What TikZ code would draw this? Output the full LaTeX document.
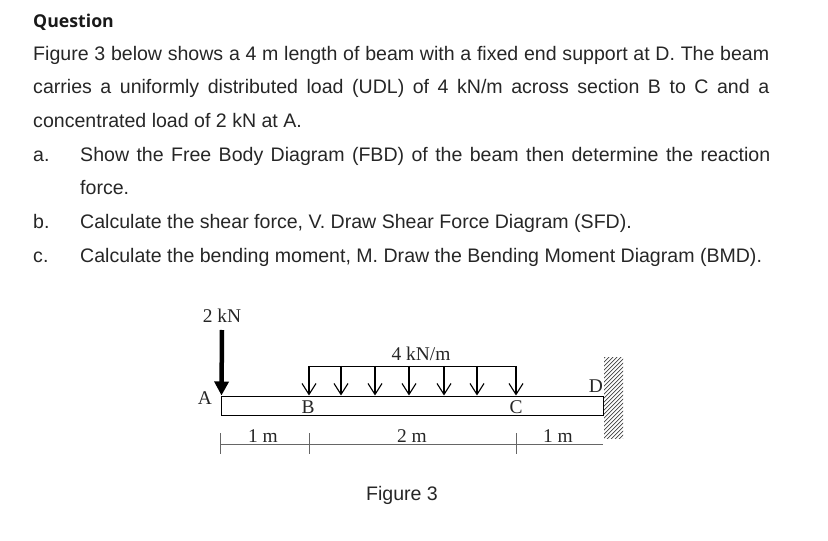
\documentclass[tikz,border=0pt]{standalone}
\usepackage{fontspec}
\setmainfont{Liberation Serif}
\setsansfont{Liberation Sans}
\newfontfamily\headfont{Open Sans}
\usetikzlibrary{arrows.meta}
\begin{document}
\begin{tikzpicture}[
        x=0.03cm, y=-0.03cm,
        body/.style={font=\sffamily\fontsize{16.7}{29}\selectfont, text=black!85, anchor=north west, inner sep=0pt, align=justify, execute at begin node=\strut},
        itemtext/.style={body, text width=20.7cm},
        beamlabel/.style={font=\fontsize{16.6}{20}\selectfont, text=black!85, inner sep=0pt},
        beam/.style={draw=black, line width=0.85pt},
        force/.style={-{Triangle[length=0.42cm,width=0.42cm]}, line width=1.35mm},
        udl/.style={-{Straight Barb[length=0.33cm,width=0.42cm]}, line width=0.95pt},
        dimline/.style={draw=black!60, line width=0.7pt}
    ]
    \useasboundingbox (0,0) rectangle (828,541);

    % Question text
    \node (title) at (33,14) [anchor=north west, inner sep=0pt, text=black!90, font=\headfont\bfseries\fontsize{15.1}{18}\selectfont] {Question};
    \node (intro) at (33,36) [body, text width=22.08cm] {Figure 3 below shows a 4 m length of beam with a fixed end support at D. The beam carries a uniformly distributed load (UDL) of 4 kN/m across section B to C and a \mbox{concentrated} load of 2 kN at A.};
    \node (la) at (33,137) [body] {a.};
    \node (ta) at (80,137) [itemtext] {Show the Free Body Diagram (FBD) of the beam then determine the reaction force.};
    \node (lb) at (33,204) [body] {b.};
    \node (tb) at (80,204) [itemtext] {Calculate the shear force, V. Draw Shear Force Diagram (SFD).};
    \node (lc) at (33,238) [body] {c.};
    \node (tc) at (80,238) [itemtext] {Calculate the bending moment, M. Draw the Bending Moment Diagram (BMD).};

    % Wall
    \begin{scope}
        \clip (604,358) rectangle (623,439);
        \foreach \i in {0,4,...,108} {
            \draw[black!75, line width=0.6pt] (600,362+\i) -- (626,336+\i);
        }
    \end{scope}

    % Beam
    \node (beambox) at (412.5,405.5) [beam, minimum width=11.43cm, minimum height=0.57cm, inner sep=0pt] {};
    \draw[line width=1.4pt] (beambox.south west) -- (beambox.south east);

    % Concentrated load
    \coordinate (loadtop) at (222,330);
    \draw[force] (loadtop) -- (beambox.north west);

    % Distributed load
    \coordinate (udl1) at (309,366);
    \coordinate (udl7) at (516,366);
    \draw[line width=0.75pt] (udl1) -- (udl7);
    \foreach \x in {309,341,375,409,444,477,516} {
        \draw[udl] (\x,366) -- (\x,395.5);
    }

    % Dimension line
    \coordinate (dimA) at (220,444);
    \coordinate (dimD) at (603,444);
    \draw[dimline] (dimA) -- (dimD);
    \foreach \x in {220,309,516} {
        \draw[dimline] (\x,433.5) -- (\x,454.5);
    }

    % Labels
    \node (force) at (222,316) [beamlabel] {2 kN};
    \node (dist) at (421,354) [beamlabel] {4 kN/m};
    \node (A) at (205,398) [beamlabel] {A};
    \node (B) at (308,407) [beamlabel] {B};
    \node (C) at (516,407) [beamlabel] {C};
    \node (D) at (596,386) [beamlabel] {D};
    \node (AB) at (263,436) [beamlabel] {1 m};
    \node (BC) at (412,436) [beamlabel] {2 m};
    \node (CD) at (558,436) [beamlabel] {1 m};
    \node (caption) at (402,494) [body, anchor=center] {Figure 3};

\end{tikzpicture}
\end{document}
